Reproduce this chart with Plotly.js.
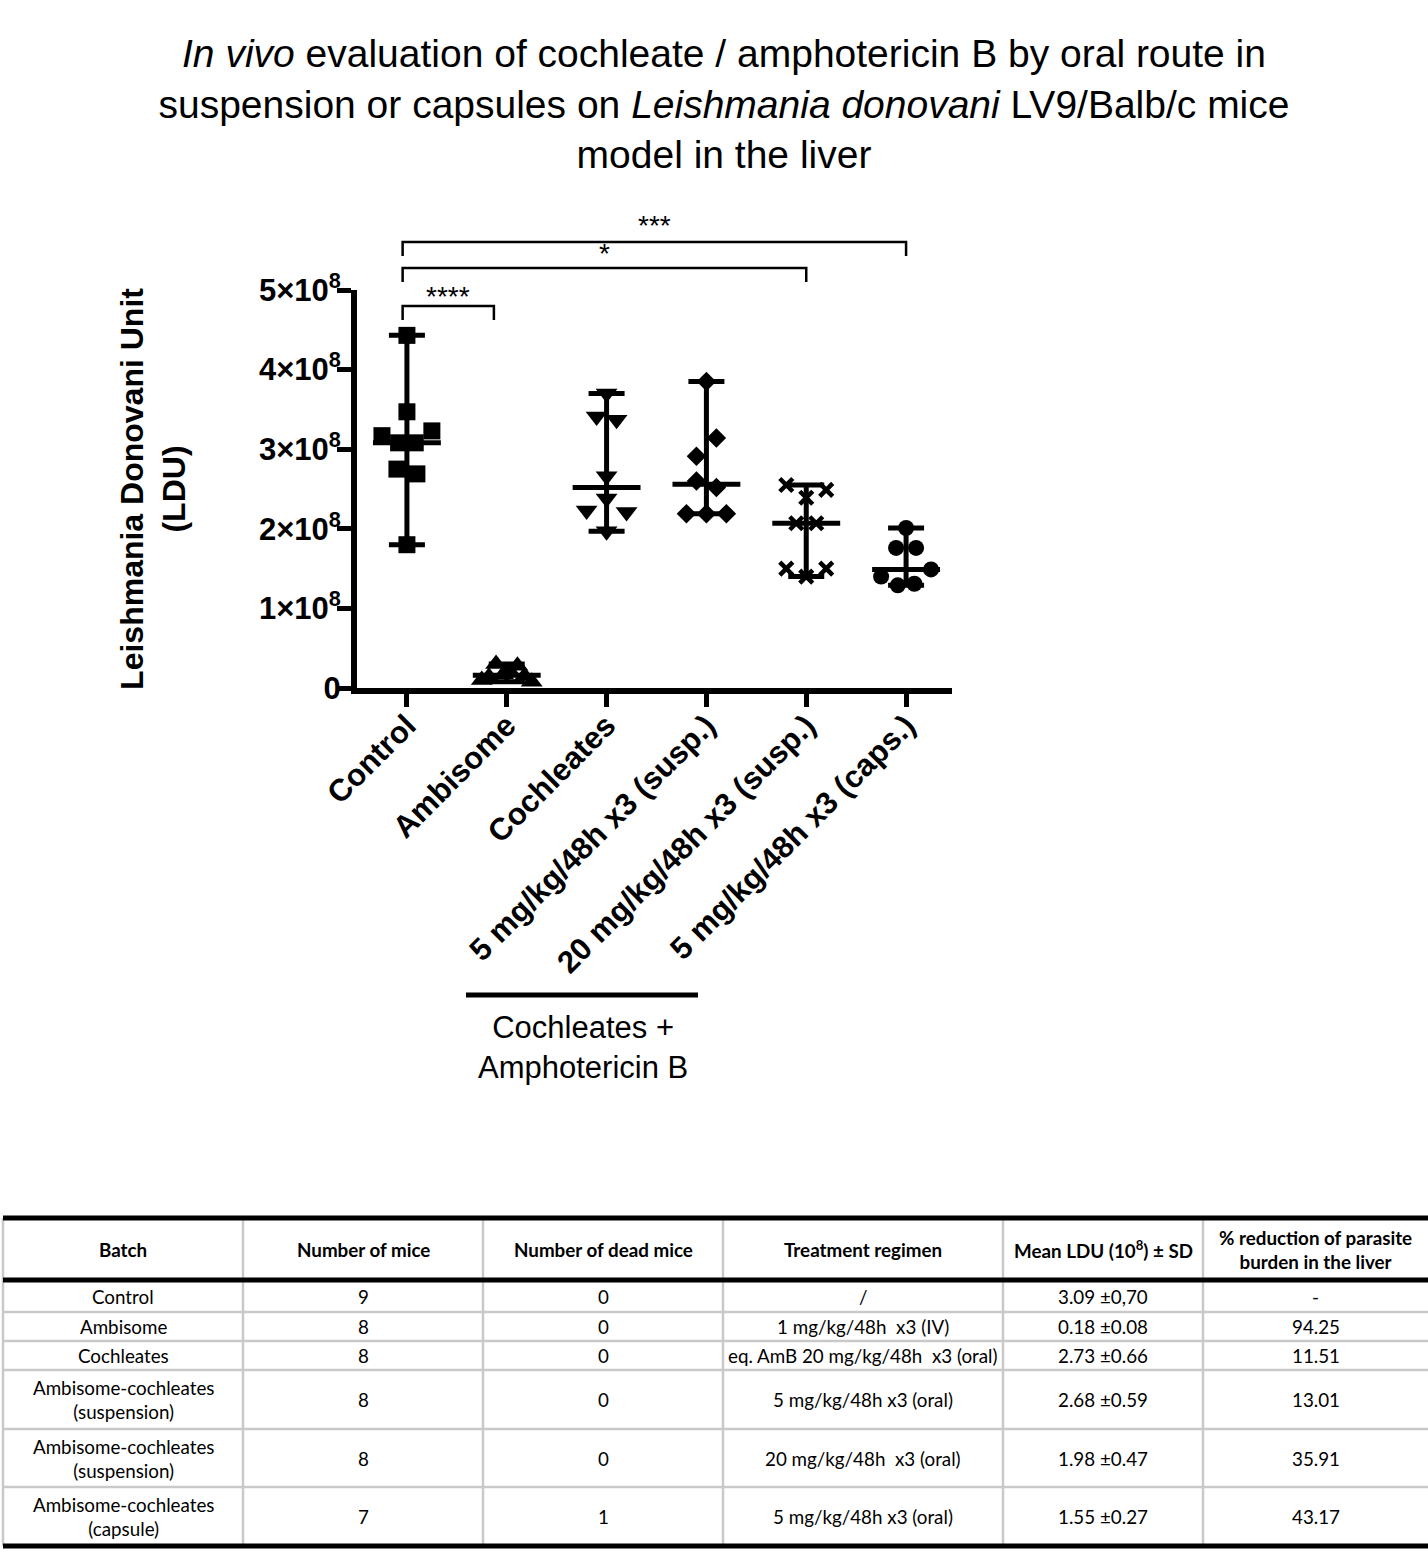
<!DOCTYPE html>
<html>
<head>
<meta charset="utf-8">
<script src="https://cdn.plot.ly/plotly-3.0.1.min.js"></script>
<style>html,body{margin:0;padding:0;background:#fff}#chart{width:1428px;height:1553px}</style>
</head>
<body>
<div id="chart"></div>
<script>
// ---------- DATA ----------
const categories = ['Control', 'Ambisome', 'Cochleates', '5 mg/kg/48h x3 (susp.)', '20 mg/kg/48h x3 (susp.)', '5 mg/kg/48h x3 (caps.)'];
// Leishmania Donovani Units per mouse, in units of 10^8
const controlLDU    = [4.43, 3.47, 3.17, 3.08, 3.08, 3.23, 2.75, 2.69, 1.80];
const ambisomeLDU   = [0.10, 0.14, 0.30, 0.17, 0.20, 0.28, 0.15, 0.08];
const cochleatesLDU = [3.70, 3.41, 3.37, 2.66, 2.23, 2.38, 2.21, 1.97];
const susp5LDU      = [3.85, 2.91, 3.14, 2.60, 2.52, 2.19, 2.19, 2.19];
const susp20LDU     = [2.55, 2.39, 2.49, 2.07, 2.07, 1.50, 1.40, 1.50];
const caps5LDU      = [2.01, 1.76, 1.76, 1.40, 1.29, 1.31, 1.49];
const LDU_UNIT = 1e8;

const yTickValues = [0, 1, 2, 3, 4, 5];
const yTickLabels = ['0', '1×10<sup>8</sup>', '2×10<sup>8</sup>', '3×10<sup>8</sup>', '4×10<sup>8</sup>', '5×10<sup>8</sup>'];

const comparisons = [
  {from: 0, to: 1, label: '****'},
  {from: 0, to: 4, label: '*'},
  {from: 0, to: 5, label: '***'}
];

const groupLabel = 'Cochleates +<br>Amphotericin B';

const tableHeader = ['Batch', 'Number of mice', 'Number of dead mice', 'Treatment regimen', 'Mean LDU (10<sup>8</sup>) ± SD', '% reduction of parasite<br>burden in the liver'];
const tableBatch = ['Control', 'Ambisome', 'Cochleates', 'Ambisome-cochleates<br>(suspension)', 'Ambisome-cochleates<br>(suspension)', 'Ambisome-cochleates<br>(capsule)'];
const tableMice = ['9', '8', '8', '8', '8', '7'];
const tableDead = ['0', '0', '0', '0', '0', '1'];
const tableRegimen = ['/', '1 mg/kg/48h  x3 (IV)', 'eq. AmB 20 mg/kg/48h  x3 (oral)', '5 mg/kg/48h x3 (oral)', '20 mg/kg/48h  x3 (oral)', '5 mg/kg/48h x3 (oral)'];
const tableMean = ['3.09 ±0,70', '0.18 ±0.08', '2.73 ±0.66', '2.68 ±0.59', '1.98 ±0.47', '1.55 ±0.27'];
const tableReduction = ['-', '94.25', '11.51', '13.01', '35.91', '43.17'];

// ---------- LAYOUT GEOMETRY ----------
const W = 1428, H = 1553;
const xDomain = [357 / W, 952 / W];
const yDomain = [1 - 688 / H, 1 - 290 / H];
const xRange = [-0.5, 5.46];
const yRange = [0, 5 * LDU_UNIT];
const pxPerLDU = (yDomain[1] - yDomain[0]) * H / (yRange[1] - yRange[0]);
const catToPaperX = c => xDomain[0] + (c - xRange[0]) / (xRange[1] - xRange[0]) * (xDomain[1] - xDomain[0]);
const pxToPaperY = p => 1 - p / H;
const pxToPaperX = p => p / W;

const groups = [controlLDU, ambisomeLDU, cochleatesLDU, susp5LDU, susp20LDU, caps5LDU];
const markerStyles = [
  {symbol: 'square', size: 17, h: 18},
  {symbol: 'triangle-up', size: 19, h: 15},
  {symbol: 'triangle-down', size: 19, h: 15},
  {symbol: 'diamond', size: 15, h: 19.5},
  {symbol: 'x-thin-open', size: 13, h: 18, line: 4.5},
  {symbol: 'circle', size: 16, h: 16}
];

// Scatter-dot spreading: points whose markers would overlap vertically are laid out side by side
function spreadOffsets(vals, tolPx) {
  const order = vals.map((v, i) => i).sort((a, b) => vals[b] - vals[a] || a - b);
  const off = new Array(vals.length).fill(0);
  let cluster = [order[0]];
  const flush = () => {
    const members = cluster.slice().sort((a, b) => a - b);
    const n = members.length;
    const step = n > 1 ? Math.min(0.2, 0.5 / (n - 1)) : 0;
    members.forEach((k, j) => { off[k] = (j - (n - 1) / 2) * step; });
  };
  for (let i = 1; i < order.length; i++) {
    const prev = cluster[cluster.length - 1];
    const dyPx = (vals[prev] - vals[order[i]]) * LDU_UNIT * pxPerLDU;
    if (dyPx < tolPx) cluster.push(order[i]); else { flush(); cluster = [order[i]]; }
  }
  flush();
  return off;
}
function median(a) {
  const s = a.slice().sort((p, q) => p - q);
  const m = Math.floor(s.length / 2);
  return s.length % 2 ? s[m] : (s[m - 1] + s[m]) / 2;
}

const traces = [];
groups.forEach((vals, gi) => {
  const med = median(vals) * LDU_UNIT;
  const mn = Math.min(...vals) * LDU_UNIT;
  const mx = Math.max(...vals) * LDU_UNIT;
  // range (min-max) whiskers
  traces.push({
    type: 'scatter', mode: 'markers', x: [gi], y: [med],
    marker: {size: 1, color: 'rgba(0,0,0,0)'},
    error_y: {type: 'data', symmetric: false, array: [mx - med], arrayminus: [med - mn], width: 18, thickness: 5, color: '#000'},
    cliponaxis: false, hoverinfo: 'skip', showlegend: false
  });
  // median line
  traces.push({
    type: 'scatter', mode: 'lines', x: [gi - 0.34, gi + 0.34], y: [med, med],
    line: {color: '#000', width: 5}, cliponaxis: false, hoverinfo: 'skip', showlegend: false
  });
  const st = markerStyles[gi];
  const offs = spreadOffsets(vals, st.h);
  traces.push({
    type: 'scatter', mode: 'markers', name: categories[gi],
    x: vals.map((v, i) => gi + offs[i]), y: vals.map(v => v * LDU_UNIT),
    marker: {symbol: st.symbol, size: st.size, color: '#000',
             line: {color: '#000', width: st.line || 0}},
    cliponaxis: false, showlegend: false
  });
});

// ---------- DECORATIONS ----------
const shapes = [];
const annotations = [];
const bracketLevelsPx = [306, 268, 242];
const starLiftPx = [9, 14, 16];
comparisons.forEach((c, k) => {
  const yTop = bracketLevelsPx[k];
  const x0 = catToPaperX(c.from) - 0.003, x1 = catToPaperX(c.to) - (k === 0 ? 0.009 : 0);
  shapes.push({type: 'path', xref: 'paper', yref: 'paper',
    path: `M ${x0} ${pxToPaperY(yTop + 14)} L ${x0} ${pxToPaperY(yTop)} L ${x1} ${pxToPaperY(yTop)} L ${x1} ${pxToPaperY(yTop + 14)}`,
    line: {color: '#000', width: 2.5}});
  annotations.push({xref: 'paper', yref: 'paper', x: (x0 + x1) / 2, y: pxToPaperY(yTop - starLiftPx[k]),
    text: c.label, showarrow: false, xanchor: 'center', yanchor: 'middle',
    font: {family: 'Liberation Sans', size: 28, color: '#000'}});
});
// group bracket under the treatment labels
shapes.push({type: 'line', xref: 'paper', yref: 'paper', x0: pxToPaperX(466), x1: pxToPaperX(698),
  y0: pxToPaperY(995), y1: pxToPaperY(995), line: {color: '#000', width: 5}});
annotations.push({xref: 'paper', yref: 'paper', x: pxToPaperX(583), y: pxToPaperY(1047),
  text: groupLabel, showarrow: false, xanchor: 'center', yanchor: 'middle',
  font: {family: 'Liberation Sans', size: 31, color: '#000'}});

// ---------- SUMMARY TABLE (grid + cell texts) ----------
const tableColumns = [tableBatch, tableMice, tableDead, tableRegimen, tableMean, tableReduction];
const colEdgesPx = [3, 243, 483, 723, 1003, 1203, 1428];
const rowEdgesPx = [1218, 1280, 1312, 1341, 1370, 1429, 1487, 1546];
const tableFont = 'Lato, Carlito, "Liberation Sans", sans-serif';
const tableFontSize = 18.8;
const gridColor = '#c9c9c9';
// vertical separators
colEdgesPx.slice(0, -1).forEach(x => {
  shapes.push({type: 'line', xref: 'paper', yref: 'paper', x0: pxToPaperX(x), x1: pxToPaperX(x),
    y0: pxToPaperY(rowEdgesPx[0]), y1: pxToPaperY(rowEdgesPx[rowEdgesPx.length - 1]),
    line: {color: gridColor, width: 2.5}});
});
// horizontal separators between body rows
rowEdgesPx.slice(2, -1).forEach(y => {
  shapes.push({type: 'line', xref: 'paper', yref: 'paper', x0: pxToPaperX(colEdgesPx[0]), x1: 1,
    y0: pxToPaperY(y), y1: pxToPaperY(y), line: {color: gridColor, width: 2.5}});
});
// thick rules: top, under header, bottom
[rowEdgesPx[0], rowEdgesPx[1], rowEdgesPx[rowEdgesPx.length - 1]].forEach(y => {
  shapes.push({type: 'line', xref: 'paper', yref: 'paper', x0: pxToPaperX(colEdgesPx[0]), x1: 1,
    y0: pxToPaperY(y), y1: pxToPaperY(y), line: {color: '#000', width: 5}});
});
const cellCenterX = ci => pxToPaperX((colEdgesPx[ci] + colEdgesPx[ci + 1]) / 2);
const cellCenterY = ri => pxToPaperY((rowEdgesPx[ri] + rowEdgesPx[ri + 1]) / 2);
tableHeader.forEach((t, ci) => {
  annotations.push({xref: 'paper', yref: 'paper', x: cellCenterX(ci), y: cellCenterY(0),
    text: '<b>' + t + '</b>', showarrow: false, align: 'center', xanchor: 'center', yanchor: 'middle',
    font: {family: tableFont, size: tableFontSize, color: '#000'}});
});
tableColumns.forEach((col, ci) => {
  col.forEach((t, ri) => {
    annotations.push({xref: 'paper', yref: 'paper', x: cellCenterX(ci), y: cellCenterY(ri + 1),
      text: t, showarrow: false, align: 'center', xanchor: 'center', yanchor: 'middle',
      font: {family: tableFont, size: tableFontSize, color: '#000'}});
  });
});

const layout = {
  width: W, height: H,
  margin: {l: 0, r: 0, t: 0, b: 0},
  paper_bgcolor: '#fff', plot_bgcolor: '#fff',
  showlegend: false,
  title: {
    text: '<i>In vivo</i> evaluation of cochleate / amphotericin B by oral route in<br>suspension or capsules on <i>Leishmania donovani</i> LV9/Balb/c mice<br>model in the liver',
    font: {family: 'Liberation Sans', size: 39, color: '#000'},
    x: 0.507, xanchor: 'center', xref: 'container',
    y: 1 - 67 / H, yanchor: 'top', yref: 'container'
  },
  xaxis: {
    domain: xDomain, range: xRange, automargin: false,
    tickvals: [0, 1, 2, 3, 4, 5], ticktext: categories, tickangle: -45,
    tickfont: {family: 'Liberation Sans', size: 31, color: '#000', weight: 'bold'},
    ticklabelstandoff: -12,
    showline: true, linewidth: 6, linecolor: '#000', ticks: 'outside', ticklen: 13, tickwidth: 5, tickcolor: '#000',
    showgrid: false, zeroline: false, fixedrange: true
  },
  yaxis: {
    domain: yDomain, range: yRange, automargin: false,
    tickvals: yTickValues.map(v => v * LDU_UNIT), ticktext: yTickLabels,
    tickfont: {family: 'Liberation Sans', size: 31, color: '#000', weight: 'bold'},
    ticklabelstandoff: -10,
    showline: true, linewidth: 6, linecolor: '#000', ticks: 'outside', ticklen: 14, tickwidth: 5, tickcolor: '#000',
    showgrid: false, zeroline: false, fixedrange: true,
    title: {text: 'Leishmania Donovani Unit<br>(LDU)', standoff: 66,
      font: {family: 'Liberation Sans', size: 32, color: '#000', weight: 'bold'}}
  },
  shapes: shapes,
  annotations: annotations
};

Plotly.newPlot('chart', traces, layout, {displayModeBar: false, staticPlot: true});
</script>
</body>
</html>
